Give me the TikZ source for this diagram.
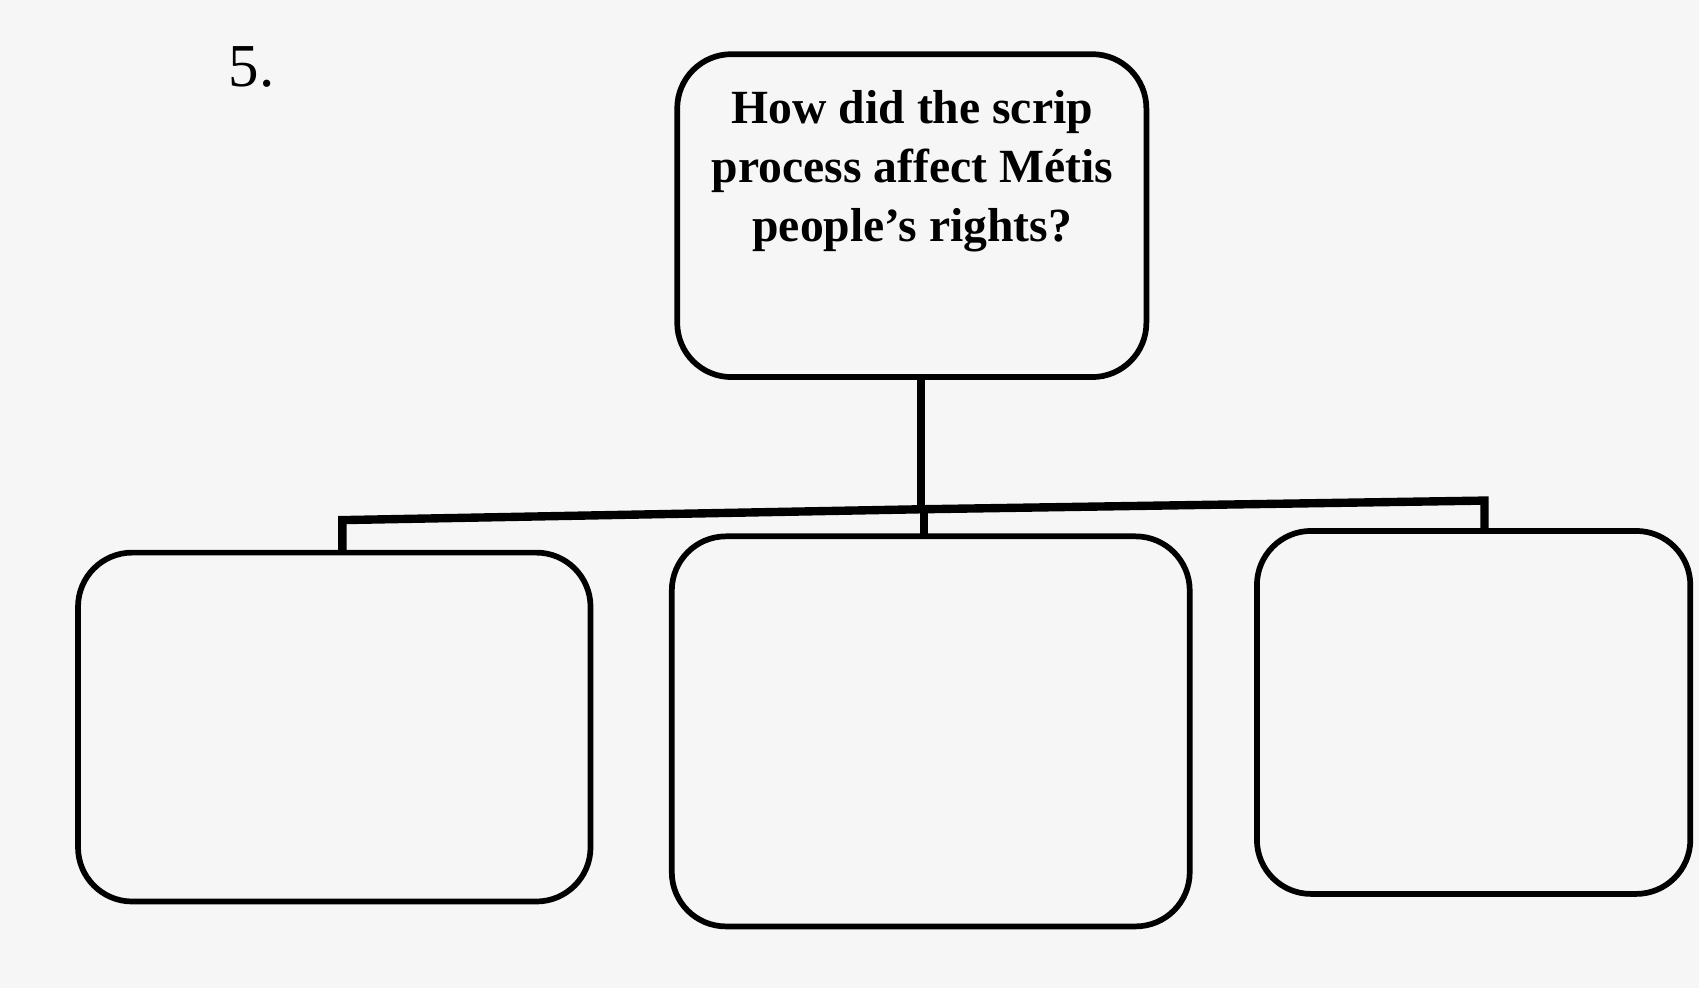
\documentclass[tikz,border=0pt]{standalone}
\usepackage{fontspec}
\setmainfont{Liberation Serif}
\begin{document}
\begin{tikzpicture}[x=0.01cm,y=-0.01cm,
  box/.style={draw,line width=1.5pt,rounded corners=0.5cm},
  ln/.style={line width=2.2pt}]
\fill[white!93!gray] (0,0) rectangle (1568,912);
\useasboundingbox (0,0) rectangle (1568,912);
\node[font=\fontsize{16}{18}\selectfont] (num) at (232,62) {5.};
\draw[box] (625,50) rectangle (1058,348);
\node[font=\fontsize{12.5}{15.5}\selectfont\bfseries,align=center] (q) at (842,158) {How did the scrip\\process affect Métis\\people’s rights?};
\draw[box] (72,510) rectangle (545,832);
\draw[box] (620,495) rectangle (1098,855);
\draw[box] (1160,490) rectangle (1560,825);
\coordinate (top) at (850,348);
\coordinate (mid) at (850,470);
\draw[ln] (top) -- (mid);
\draw[ln] (316,510) -- (316,480) -- (850,470) -- (1370,462) -- (1370,490);
\draw[ln] (853,470) -- (853,495);
\end{tikzpicture}
\end{document}
